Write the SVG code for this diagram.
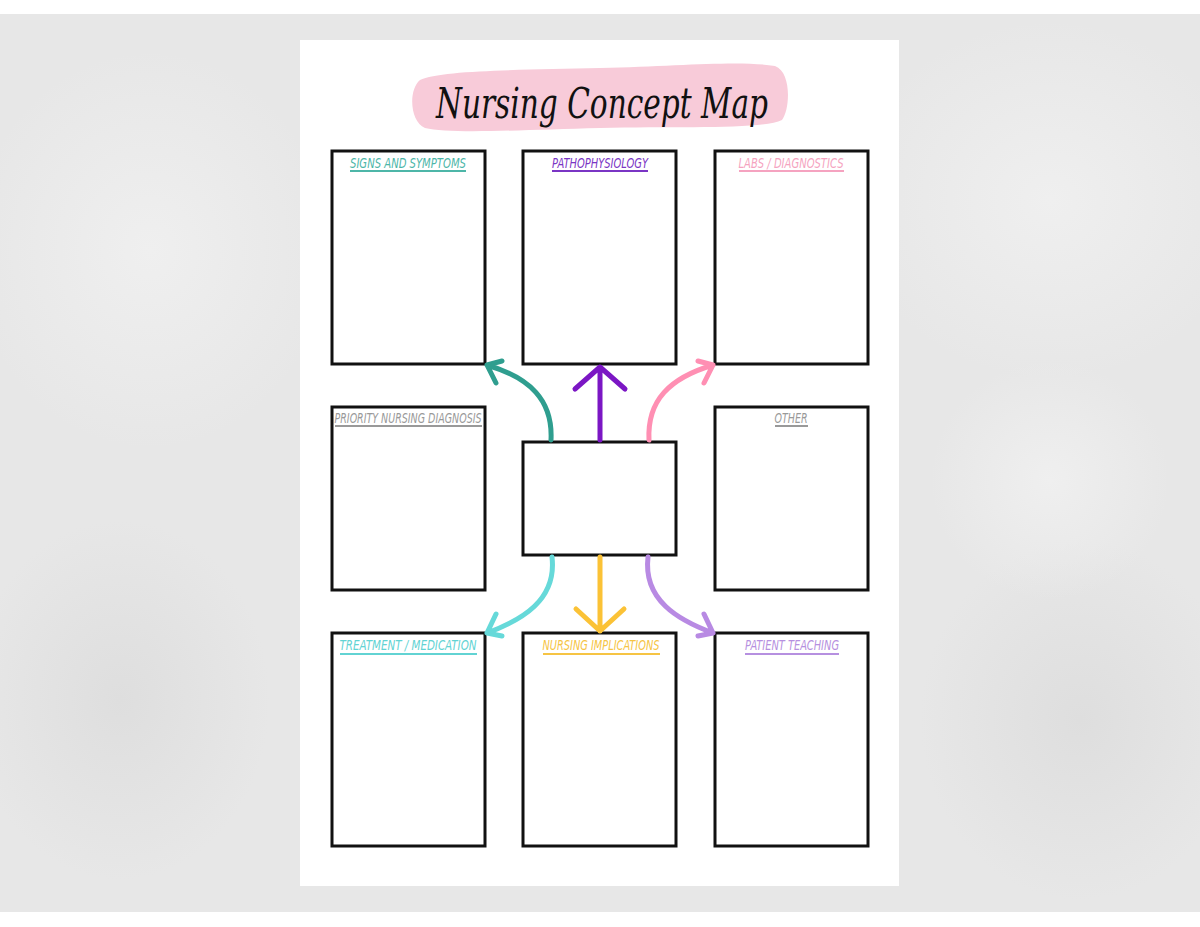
<svg xmlns="http://www.w3.org/2000/svg" width="1200" height="927" viewBox="0 0 1200 927">
<style>
.box{fill:#ffffff;stroke:#111;stroke-width:3}
.lbl{font-family:"Liberation Sans Narrow","DejaVu Sans Condensed","Liberation Sans",sans-serif;font-size:14px;font-style:italic;text-anchor:middle}
.ul{stroke-width:2;fill:none}
.arr{fill:none;stroke-width:5;stroke-linecap:round;stroke-linejoin:round}
</style>
<defs>
<radialGradient id="blot1" cx="0.5" cy="0.5" r="0.5"><stop offset="0" stop-color="#efefef"/><stop offset="1" stop-color="#efefef" stop-opacity="0"/></radialGradient>
<radialGradient id="blot2" cx="0.5" cy="0.5" r="0.5"><stop offset="0" stop-color="#dedede"/><stop offset="1" stop-color="#dedede" stop-opacity="0"/></radialGradient>
</defs>
<rect x="0" y="0" width="1200" height="927" fill="#ffffff"/>
<g id="background">
<rect x="0" y="14" width="1200" height="898" fill="#e7e7e7"/>
<ellipse cx="150" cy="250" rx="180" ry="200" fill="url(#blot1)"/>
<ellipse cx="1050" cy="200" rx="200" ry="180" fill="url(#blot1)"/>
<ellipse cx="120" cy="700" rx="150" ry="180" fill="url(#blot2)"/>
<ellipse cx="1080" cy="720" rx="160" ry="180" fill="url(#blot2)"/>
<ellipse cx="1050" cy="480" rx="120" ry="120" fill="url(#blot1)"/>
</g>
<rect id="page" x="300" y="40" width="599" height="846" fill="#ffffff"/>
<g id="title">
<path d="M420,80 C440,70 520,70 600,68 C680,66 740,60 775,66 C792,72 790,110 782,120 C760,130 680,126 600,128 C520,130 450,134 425,128 C410,122 408,90 420,80 Z" fill="#f8cbd9"/>
<text x="602" y="118" font-family="'DejaVu Serif','Liberation Serif',serif" font-style="italic" font-size="42" fill="#111" text-anchor="middle" textLength="332" lengthAdjust="spacingAndGlyphs">Nursing Concept Map</text>
</g>
<g id="node-signs">
<rect class="box" x="332" y="151" width="153" height="213"/>
<text class="lbl" x="408" y="168" fill="#4db6a8" textLength="116" lengthAdjust="spacingAndGlyphs">SIGNS AND SYMPTOMS</text>
<line class="ul" x1="350" y1="171" x2="466" y2="171" stroke="#4db6a8"/>
</g>
<g id="node-patho">
<rect class="box" x="523" y="151" width="153" height="213"/>
<text class="lbl" x="600" y="168" fill="#7a35c4" textLength="96" lengthAdjust="spacingAndGlyphs">PATHOPHYSIOLOGY</text>
<line class="ul" x1="552" y1="171" x2="648" y2="171" stroke="#7a35c4"/>
</g>
<g id="node-labs">
<rect class="box" x="715" y="151" width="153" height="213"/>
<text class="lbl" x="791" y="168" fill="#f5a3c0" textLength="105" lengthAdjust="spacingAndGlyphs">LABS / DIAGNOSTICS</text>
<line class="ul" x1="739" y1="171" x2="844" y2="171" stroke="#f5a3c0"/>
</g>
<g id="node-priority">
<rect class="box" x="332" y="407" width="153" height="183"/>
<text class="lbl" x="408" y="423" fill="#999" textLength="147" lengthAdjust="spacingAndGlyphs">PRIORITY NURSING DIAGNOSIS</text>
<line class="ul" x1="335" y1="426" x2="482" y2="426" stroke="#999"/>
</g>
<g id="node-center">
<rect class="box" x="523" y="442" width="153" height="113"/>
</g>
<g id="node-other">
<rect class="box" x="715" y="407" width="153" height="183"/>
<text class="lbl" x="791" y="423" fill="#999" textLength="33" lengthAdjust="spacingAndGlyphs">OTHER</text>
<line class="ul" x1="775" y1="426" x2="808" y2="426" stroke="#999"/>
</g>
<g id="node-treatment">
<rect class="box" x="332" y="633" width="153" height="213"/>
<text class="lbl" x="408" y="650" fill="#62d3d3" textLength="137" lengthAdjust="spacingAndGlyphs">TREATMENT / MEDICATION</text>
<line class="ul" x1="340" y1="654" x2="477" y2="654" stroke="#62d3d3"/>
</g>
<g id="node-implications">
<rect class="box" x="523" y="633" width="153" height="213"/>
<text class="lbl" x="601" y="650" fill="#f6c444" textLength="117" lengthAdjust="spacingAndGlyphs">NURSING IMPLICATIONS</text>
<line class="ul" x1="543" y1="654" x2="660" y2="654" stroke="#f6c444"/>
</g>
<g id="node-teaching">
<rect class="box" x="715" y="633" width="153" height="213"/>
<text class="lbl" x="792" y="650" fill="#b690e0" textLength="94" lengthAdjust="spacingAndGlyphs">PATIENT TEACHING</text>
<line class="ul" x1="745" y1="654" x2="839" y2="654" stroke="#b690e0"/>
</g>
<g id="connectors">
<path class="arr" stroke="#2f9e8f" d="M551,440 C553,400 530,378 487,365 M502,361 L487,365 L496,383"/>
<path class="arr" stroke="#7b16c4" d="M600,440 L600,367 M575,389 L600,367 L625,389"/>
<path class="arr" stroke="#ff8fb3" d="M649,440 C647,400 670,378 713,365 M698,361 L713,365 L704,383"/>
<path class="arr" stroke="#66d9d9" d="M552,557 C557,600 522,620 487,633 M496,614 L487,633 L502,636"/>
<path class="arr" stroke="#fbc236" d="M600,557 L600,631 M576,609 L600,631 L624,609"/>
<path class="arr" stroke="#b88ae3" d="M648,557 C643,600 678,620 713,633 M704,614 L713,633 L698,636"/>
</g>
</svg>
